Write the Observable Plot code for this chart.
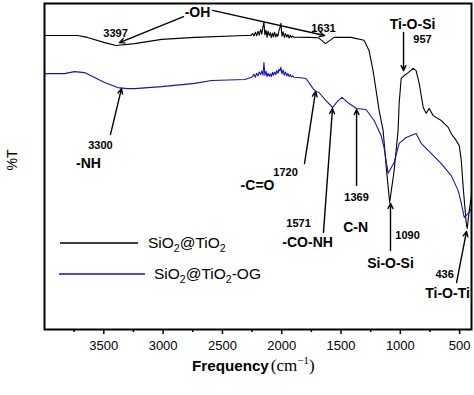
<!DOCTYPE html>
<html><head><meta charset="utf-8">
<script src="https://cdn.jsdelivr.net/npm/d3@7"></script>
<script src="https://cdn.jsdelivr.net/npm/@observablehq/plot@0.6"></script>
<style>body{margin:0;background:#fff;} svg{display:block}</style>
</head><body><div id="chart"></div>
<script>
// --- data (wavenumber cm-1, %T arbitrary) ---
const blackFreq = [4000,3721,3637,3493,3397,3240,3012,2733,2311,2260,
  2245,2235,2222,2212,2200,2190,2178,2168,2158,2150,2142,2132,2124,2115,2105,2096,2088,2078,2070,2060,2050,2042,2032,2024,2015,2007,1998,1988,1978,1968,1958,1948,1938,1928,1918,1908,1898,
  1753,1686,1631,1559,1416,1306,1264,1230,1204,1179,1145,1120,1090,1052,1019,1010,993,968,934,892,867,841,807,782,757,723,655,596,571,529,503,486,470,444,436,419,400];
const blackT = [90.2,90.2,89.6,88.0,87.1,87.7,89.0,89.6,90.2,90.2,
  90.8,90.0,91.2,90.1,91.5,90.3,92.0,90.6,92.8,94.2,90.4,91.8,89.6,91.5,90.2,91.0,89.5,90.9,89.8,91.2,89.7,90.6,90.0,91.6,92.6,93.9,90.0,91.3,89.6,90.8,89.7,90.5,89.4,90.3,89.6,90.0,89.7,
  89.6,89.4,87.7,89.6,89.6,88.7,85.6,79.4,73.3,67.2,61.0,50.3,39.0,48.8,61.0,69.3,77.0,77.9,78.8,80.1,79.4,75.5,68.1,66.3,67.8,65.6,64.1,62.0,60.1,58.0,56.4,51.8,43.6,32.5,31.0,36.5,41.1];
const blueFreq = [4000,3831,3747,3662,3578,3493,3383,3300,3240,3012,2733,2590,2311,2260,
  2245,2235,2222,2212,2200,2190,2178,2168,2158,2150,2142,2132,2124,2115,2105,2096,2088,2078,2070,2060,2050,2042,2032,2024,2015,2007,1998,1988,1978,1968,1958,1948,1938,1928,1918,1908,1898,
  1863,1796,1736,1711,1686,1627,1571,1525,1492,1432,1369,1289,1221,1162,1137,1103,1052,1010,951,867,824,740,655,571,512,486,461,427,400];
const blueT = [78.5,78.5,79.1,78.8,77.3,75.8,74.2,73.9,73.9,74.5,75.5,76.4,76.7,77.3,
  77.6,78.3,77.4,78.6,77.8,79.0,78.2,79.3,78.0,81.9,78.0,79.2,77.6,78.6,77.7,78.4,77.6,78.9,78.0,79.0,78.2,79.4,78.6,79.8,79.3,80.4,78.4,79.6,78.0,79.0,77.8,78.5,77.6,78.2,77.5,77.8,77.4,
  77.3,77.0,73.9,73.0,72.7,70.2,68.1,70.2,71.2,69.3,67.8,67.5,64.1,59.5,55.8,47.9,51.2,57.1,58.9,60.1,57.1,54.0,50.9,47.2,42.6,38.7,34.4,35.6,37.1];
const seriesNames = ["SiO\u2082@TiO\u2082", "SiO\u2082@TiO\u2082-OG"];
const majorTicks = [3500,3000,2500,2000,1500,1000,500];
const minorTicks = [3750,3250,2750,2250,1750,1250,750];

// annotations (data coordinates)
const groupLabels = ["-OH","Ti-O-Si","-NH","-C=O","-CO-NH","C-N","Si-O-Si","Ti-O-Ti"];
const groupFreq   = [2710, 897, 3629, 2204, 1782, 1377, 1083, 602];
const groupT      = [97.2, 93.6, 50.9, 44.2, 26.7, 31.3, 20.2, 11.0];
const peakLabels  = ["3397","1631","957","3300","1720","1571","1369","1090","436"];
const peakFreq    = [3401, 1648, 813, 3528, 1968, 1858, 1369, 939, 627];
const peakT       = [90.8, 92.3, 89.0, 56.4, 48.2, 32.5, 40.5, 28.8, 16.9];
const arrowF1 = [2828, 2583, 973, 3444, 1808, 1648, 1369, 1083, 526];
const arrowT1 = [96.0, 97.9, 91.1, 59.8, 50.9, 29.8, 44.2, 24.2, 14.4];
const arrowF2 = [3368, 1639, 973, 3351, 1715, 1572, 1369, 1083, 442];
const arrowT2 = [88.0, 90.2, 79.4, 73.9, 73.0, 67.8, 67.5, 38.7, 30.1];

const black = blackFreq.map((f,i)=>({f, t:blackT[i]}));
const blue = blueFreq.map((f,i)=>({f, t:blueT[i]}));
const groups = groupLabels.map((s,i)=>({s, f:groupFreq[i], t:groupT[i]}));
const peaks = peakLabels.map((s,i)=>({s, f:peakFreq[i], t:peakT[i]}));
const arrows = arrowF1.map((f,i)=>({f1:f, t1:arrowT1[i], f2:arrowF2[i], t2:arrowT2[i]}));

const FONT = "'Liberation Sans', Arial, sans-serif";
const chart = Plot.plot({
  width: 474, height: 395,
  marginLeft: 44, marginRight: 3, marginTop: 3, marginBottom: 66,
  style: {fontFamily: FONT, background: "#fff", color: "#000"},
  x: {domain: [4000, 400]},
  y: {domain: [0, 100], axis: null},
  marks: [
    Plot.line(black, {x:"f", y:"t", stroke:"#000", strokeWidth:1.1}),
    Plot.line(blue, {x:"f", y:"t", stroke:"#1414b8", strokeWidth:1.1}),
    Plot.axisX({ticks: majorTicks, tickSize: 5, tickPadding: 6, fontSize: 13, label: null, tickFormat: d=>String(d), strokeWidth: 1.5}),
    Plot.axisX({ticks: minorTicks, tickSize: 3, label: null, tickFormat: ()=>"", strokeWidth: 1.5}),
    Plot.frame({stroke:"#000", strokeWidth: 2}),
    Plot.arrow(arrows, {x1:"f1", y1:"t1", x2:"f2", y2:"t2", stroke:"#000", strokeWidth:1.4, headLength:6, headAngle:50}),
    Plot.text(groups, {x:"f", y:"t", text:"s", fontSize:14, fontWeight:"bold", fill:"#000"}),
    Plot.text(peaks, {x:"f", y:"t", text:"s", fontSize:11, fontWeight:"bold", fill:"#000"})
  ]
});
document.getElementById("chart").appendChild(chart);

const svg = d3.select(chart);
// y label
svg.append("text").attr("transform","translate(17,160) rotate(-90)")
  .attr("text-anchor","middle").attr("font-family",FONT).attr("font-size",14).text("%T");
// x label
const xl = svg.append("text").attr("x",192).attr("y",371).attr("text-anchor","start").attr("font-family",FONT);
xl.append("tspan").attr("font-weight","bold").attr("font-size",15.2).text("Frequency");
xl.append("tspan").attr("font-family","'Liberation Serif', 'Times New Roman', serif").attr("font-size",17).attr("dx",2).text("(cm");
xl.append("tspan").attr("font-family","'Liberation Serif', serif").attr("font-size",11).attr("dy",-7).text("\u22121");
xl.append("tspan").attr("font-family","'Liberation Serif', serif").attr("font-size",17).attr("dy",7).text(")");
// legend
const legColors = ["#000","#1414b8"];
const legY = [243, 274];
const legX = [[60,138,148],[59,145,154]];
seriesNames.forEach((name,i)=>{
  svg.append("line").attr("x1",legX[i][0]).attr("x2",legX[i][1]).attr("y1",legY[i]).attr("y2",legY[i])
    .attr("stroke",legColors[i]).attr("stroke-width",1.3);
  const t = svg.append("text").attr("x",legX[i][2]).attr("y",legY[i]+5).attr("text-anchor","start")
    .attr("font-family",FONT).attr("font-size",15.5);
  const parts = name.split("\u2082");
  parts.forEach((p,j)=>{
    t.append("tspan").attr("dy", j===0?0:-4).text(p);
    if (j<parts.length-1) t.append("tspan").attr("font-size",10.5).attr("dy",4).text("2");
  });
});
</script>
</body></html>
